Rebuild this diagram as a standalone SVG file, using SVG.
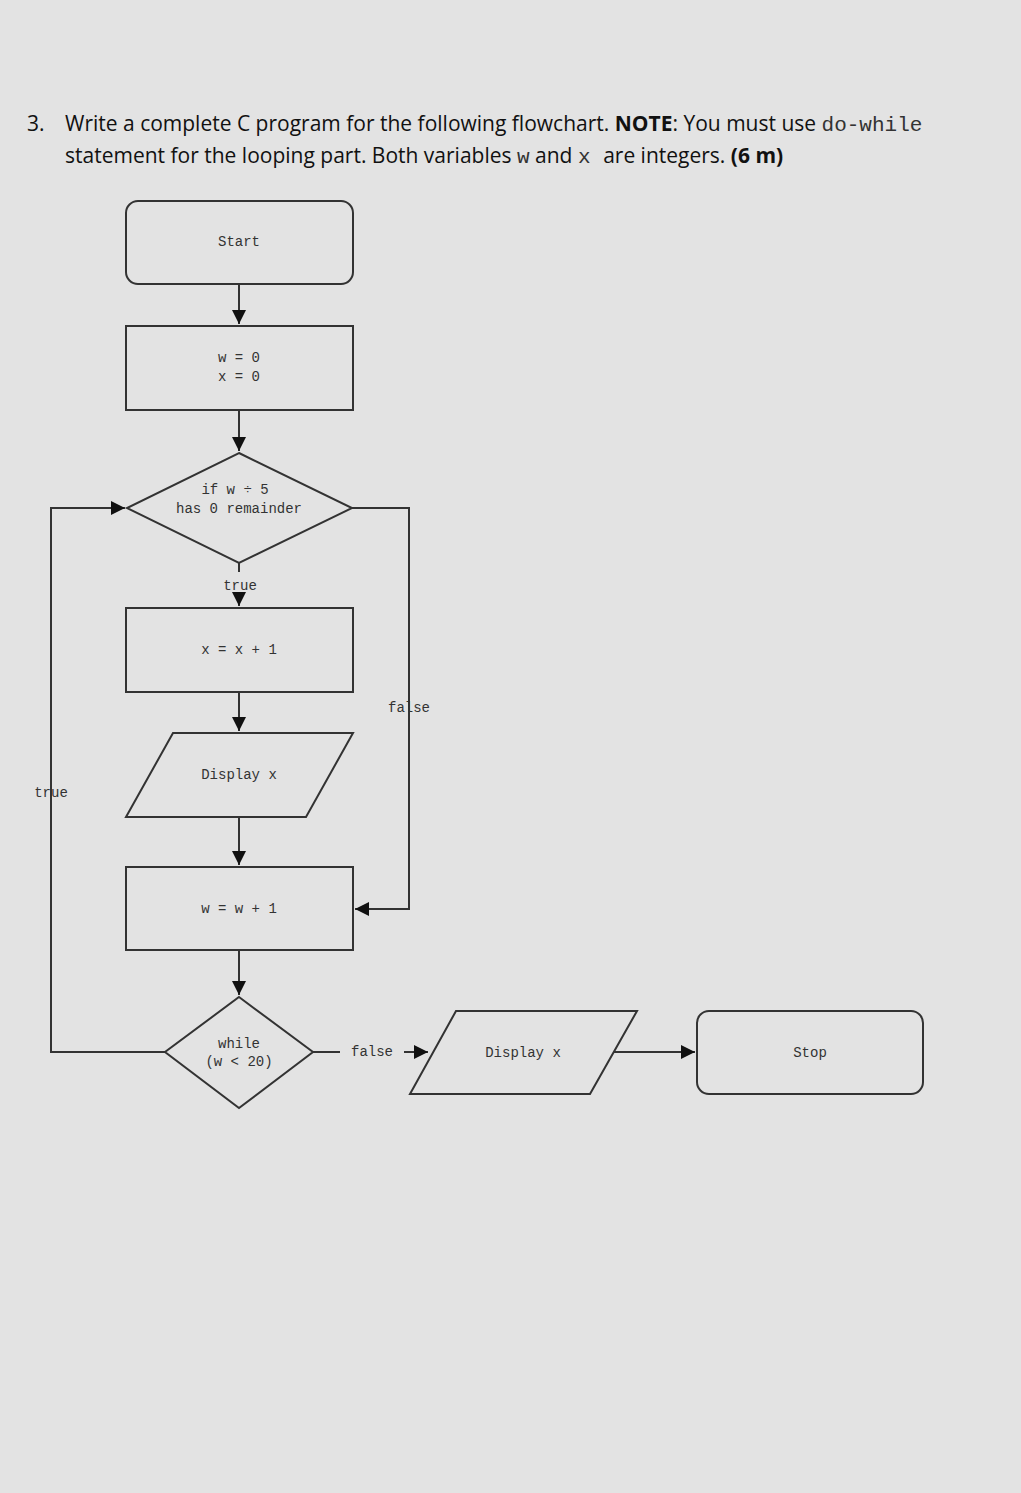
<svg xmlns="http://www.w3.org/2000/svg" width="1021" height="1493" viewBox="0 0 1021 1493">
<style>
.s{fill:none;stroke:#333;stroke-width:2}
.n{fill:#e3e3e3;stroke:#333;stroke-width:2}
.m{font-family:"Liberation Mono",monospace;font-size:14px;fill:#333;text-anchor:middle}
.h{font-family:"Open Sans","Liberation Sans",sans-serif;font-size:21px;fill:#111}
.hm{font-family:"Liberation Mono",monospace;font-size:21px;fill:#333}
</style>
<defs><marker id="a" viewBox="0 0 10 10" refX="10" refY="5" markerWidth="7" markerHeight="7" orient="auto"><path d="M0,0L10,5L0,10z" fill="#111"/></marker></defs>
<rect width="1021" height="1493" fill="#e3e3e3"/>
<text class="h" x="27" y="131">3.<tspan x="65">Write a complete C program for the following flowchart. </tspan><tspan font-weight="bold">NOTE</tspan>: You must use <tspan class="hm">do-while</tspan></text>
<text class="h" x="65" y="163">statement for the looping part. Both variables <tspan class="hm" font-size="19">w</tspan> and <tspan class="hm" font-size="19"> x </tspan> are integers. <tspan font-weight="bold">(6 m)</tspan></text>
<g id="connectors">
<path class="s" d="M239,284V324" marker-end="url(#a)"/>
<path class="s" d="M239,410V451" marker-end="url(#a)"/>
<path class="s" d="M239,563V572"/>
<path class="s" d="M239,596V606" marker-end="url(#a)"/>
<path class="s" d="M239,692V731" marker-end="url(#a)"/>
<path class="s" d="M239,817V865" marker-end="url(#a)"/>
<path class="s" d="M239,950V995" marker-end="url(#a)"/>
<path class="s" d="M352,508H409V909H355" marker-end="url(#a)"/>
<path class="s" d="M165,1052H51V508H125" marker-end="url(#a)"/>
<path class="s" d="M313,1052H340"/>
<path class="s" d="M404,1052H428" marker-end="url(#a)"/>
<path class="s" d="M613,1052H695" marker-end="url(#a)"/>
<text class="m" x="240" y="590">true</text>
<text class="m" x="409" y="712">false</text>
<text class="m" x="51" y="797">true</text>
<text class="m" x="372" y="1056">false</text>
</g>
<g id="start"><rect class="n" x="126" y="201" width="227" height="83" rx="12"/><text class="m" x="239" y="246">Start</text></g>
<g id="init"><rect class="n" x="126" y="326" width="227" height="84"/><text class="m" x="239" y="362">w = 0</text><text class="m" x="239" y="381">x = 0</text></g>
<g id="if"><polygon class="n" points="239,453 352,508 239,563 127,508"/><text class="m" x="235" y="494">if w ÷ 5</text><text class="m" x="239" y="513">has 0 remainder</text></g>
<g id="inc-x"><rect class="n" x="126" y="608" width="227" height="84"/><text class="m" x="239" y="654">x = x + 1</text></g>
<g id="disp1"><polygon class="n" points="173,733 353,733 306,817 126,817"/><text class="m" x="239" y="779">Display x</text></g>
<g id="inc-w"><rect class="n" x="126" y="867" width="227" height="83"/><text class="m" x="239" y="913">w = w + 1</text></g>
<g id="while"><polygon class="n" points="239,997 313,1052 239,1108 165,1052"/><text class="m" x="239" y="1048">while</text><text class="m" x="239" y="1066">(w &lt; 20)</text></g>
<g id="disp2"><polygon class="n" points="456,1011 637,1011 590,1094 410,1094"/><text class="m" x="523" y="1057">Display x</text></g>
<g id="stop"><rect class="n" x="697" y="1011" width="226" height="83" rx="12"/><text class="m" x="810" y="1057">Stop</text></g>
</svg>
